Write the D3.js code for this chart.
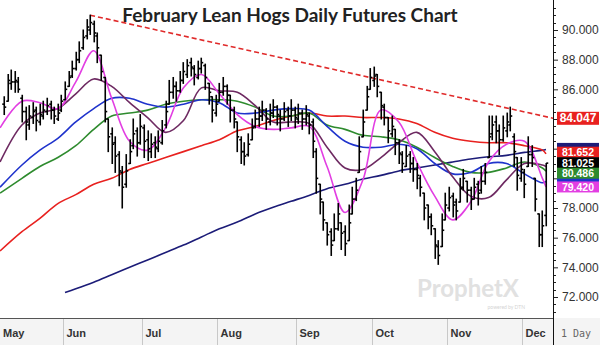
<!DOCTYPE html>
<html>
<head>
<meta charset="utf-8">
<script src="https://d3js.org/d3.v7.min.js"></script>
<style>
  body { margin: 0; background: #fff; }
  svg { display: block; }
</style>
</head>
<body>
<svg id="chart" width="600" height="345"></svg>
<script>

// daily bars, [open, high, low, close], one per trading day from early May
var bars = [
  [85.0,85.5,84.3,84.8],[85.2,87.0,85.2,86.6],[86.4,87.3,86.0,86.5],[86.5,87.2,85.8,86.6],[86.5,86.8,85.8,86.0],
  [85.4,85.6,83.8,84.5],[84.5,84.8,82.6,83.8],[83.6,84.9,83.3,84.2],[84.1,85.1,83.7,84.5],[84.6,84.8,83.2,83.9],
  [83.8,85.0,83.6,84.3],[84.2,85.2,84.0,84.6],[84.5,85.4,84.3,84.9],[85.0,85.2,84.0,84.6],[84.6,84.8,83.7,84.2],
  [84.0,85.0,83.9,84.4],[84.6,85.6,84.5,85.2],[85.3,86.5,85.3,86.0],[86.2,87.2,86.2,86.8],[86.9,87.9,86.8,87.4],
  [87.4,88.5,87.3,88.0],[88.0,89.2,87.8,88.6],[88.8,90.0,88.7,89.5],[89.6,90.7,89.4,90.2],[90.0,91.0,89.7,90.5],
  [90.4,90.6,89.2,89.8],[89.6,89.8,87.8,88.8],[88.3,88.3,86.6,87.2],[86.8,86.8,83.8,84.5],[84.0,84.0,81.8,82.8],
  [83.0,83.4,81.0,82.3],[82.4,82.8,80.4,81.5],[81.6,81.8,79.5,80.5],[80.4,80.8,78.0,79.4],[79.6,81.6,79.4,80.5],
  [81.0,82.6,81.0,81.8],[82.2,84.0,82.0,83.0],[83.2,83.4,81.5,82.4],[82.4,84.3,82.3,83.5],[83.4,83.6,81.4,82.5],
  [82.6,83.2,81.2,82.0],[81.8,83.0,81.4,82.3],[82.4,82.8,81.4,82.1],[82.0,83.2,81.8,82.5],[82.4,83.9,82.3,83.2],
  [83.6,85.2,83.4,84.5],[85.0,86.6,85.0,85.8],[85.8,86.8,85.4,86.2],[86.2,86.5,85.2,85.9],[85.9,87.2,85.8,86.6],
  [86.6,87.8,86.4,87.2],[87.0,88.0,86.8,87.6],[87.8,88.1,86.9,87.5],[87.4,87.6,86.3,87.0],[86.8,87.9,86.7,87.4],
  [87.4,88.1,87.1,87.8],[87.6,87.7,86.0,86.8],[86.4,86.4,85.0,85.8],[85.5,85.5,83.8,84.6],[84.4,85.6,84.2,85.0],
  [85.2,86.4,85.2,85.8],[85.8,86.8,85.6,86.2],[86.2,86.3,85.0,85.6],[85.6,85.6,83.8,84.6],[84.6,84.8,83.4,84.0],
  [83.8,83.8,81.8,82.8],[82.6,82.8,81.0,81.8],[81.8,82.4,80.9,81.5],[81.6,83.0,81.5,82.3],[82.6,84.0,82.6,83.4],
  [83.5,84.6,83.4,84.0],[84.0,84.8,83.5,84.2],[84.2,85.2,83.9,84.6],[84.6,84.7,83.3,84.0],[83.8,85.0,83.6,84.4],
  [84.4,85.3,84.1,84.8],[84.8,84.9,83.6,84.3],[84.2,84.6,83.2,84.0],[84.0,85.1,83.9,84.5],[84.6,84.8,83.5,84.2],
  [84.2,85.3,83.9,84.6],[84.6,84.8,83.4,84.1],[84.0,85.0,83.7,84.4],[84.4,84.6,83.3,84.0],[84.0,84.9,83.6,84.3],
  [84.2,84.4,83.0,83.6],[83.8,84.0,81.4,82.5],[81.8,82.0,79.0,80.0],[79.6,79.6,77.6,78.6],[78.4,78.4,76.5,77.2],
  [77.0,77.0,75.5,76.2],[76.4,76.6,74.8,75.5],[75.8,77.6,75.8,76.6],[76.6,78.3,76.5,77.6],[77.0,77.0,75.2,76.3],
  [76.4,76.8,74.8,75.6],[75.8,78.2,75.8,77.0],[77.6,79.4,77.6,78.6],[78.6,80.0,78.5,79.2],[80.4,82.8,80.4,81.8],
  [82.8,84.6,82.8,83.8],[84.6,86.2,84.6,85.5],[86.0,87.4,86.0,86.8],[86.6,87.5,86.2,86.9],[87.0,87.0,85.5,86.2],
  [85.8,85.8,84.0,84.9],[84.8,85.0,83.6,84.1],[84.1,84.1,82.4,83.2],[83.0,84.2,82.8,83.5],[83.3,83.3,81.6,82.4],
  [82.4,82.6,81.0,81.7],[81.6,81.8,80.4,81.0],[80.8,82.2,80.8,81.5],[81.6,81.8,80.4,81.0],[81.0,81.4,79.8,80.6],
  [80.6,81.0,79.3,80.2],[80.0,80.2,78.8,79.4],[79.0,79.0,77.2,78.0],[78.2,78.2,76.6,77.4],[77.4,77.6,76.2,76.8],
  [76.6,76.6,74.6,75.5],[75.4,75.8,74.2,74.8],[75.4,77.6,75.4,76.5],[77.2,79.0,77.2,78.2],[78.0,79.4,77.8,78.7],
  [78.8,79.0,77.4,78.2],[78.4,78.6,77.2,77.8],[78.4,80.0,78.4,79.3],[79.4,80.6,79.2,80.0],[79.8,79.8,78.4,79.2],
  [79.2,79.4,77.9,78.6],[78.6,80.0,78.6,79.4],[79.6,79.8,78.2,79.0],[79.2,80.8,79.0,79.8],[79.8,81.0,79.6,80.4],
  [81.4,84.2,81.4,82.8],[83.0,84.2,82.6,83.6],[83.8,84.2,82.4,83.2],[83.2,83.6,81.6,82.6],[82.6,84.2,82.5,83.4],
  [83.2,84.4,82.8,83.8],[83.6,84.8,83.2,84.2],[82.8,83.0,80.8,81.8],[81.4,81.4,79.2,80.2],[80.0,81.4,79.8,80.6],
  [80.4,80.6,78.7,79.6],[80.8,82.8,80.8,81.6],[81.6,82.2,80.8,81.4],[80.0,80.0,77.8,78.6],[77.6,77.6,75.4,76.2],
  [76.2,77.8,75.4,76.8],[77.5,81.0,76.8,81.025]
];

// moving averages, read every 5th bar (index -1.1 = left edge)
var maIdx = [-1.1,5,10,15,20,25,30,35,40,45,50,55,60,65,70,75,80,85,90,95,100,105,110,115,120,125,130,135,140,145,150,151];
var ma9   = [83.4,85.2,85.1,84.7,86.5,88.6,85.4,82.5,81.9,83.4,86.1,87.0,85.7,84.3,83.5,83.3,83.4,83.5,80.8,77.7,79.9,84.6,83.8,81.1,78.8,77.2,78.4,81.1,82.3,82.5,80.0,79.42];
var ma18  = [81.1,83.6,84.4,84.7,85.7,86.7,86.2,85.1,84.1,83.1,83.9,86.1,85.9,85.8,84.9,83.8,83.8,83.7,82.1,80.7,80.6,81.4,82.4,83.1,81.8,80.1,78.8,78.7,79.9,81.0,80.9,80.8];
var ma40  = [79.4,80.9,81.9,82.7,83.8,84.7,85.4,85.4,85.0,84.8,85.0,85.3,85.1,84.4,84.4,84.6,84.7,84.6,83.5,82.5,82.1,82.1,82.3,82.0,81.0,80.3,80.4,81.0,81.0,80.3,79.7,79.8];
var ma50  = [79.0,80.0,80.8,81.4,82.2,83.3,84.2,84.4,84.6,85.0,85.2,85.3,85.3,85.2,84.8,84.2,84.2,84.4,83.6,83.3,82.9,82.8,82.6,82.1,81.4,80.8,80.4,80.4,80.7,81.1,80.7,80.486];
var ma100 = [75.1,76.4,77.3,78.3,78.9,79.6,80.0,80.6,81.0,81.4,81.8,82.2,82.6,83.2,83.5,83.9,84.2,84.4,84.2,84.2,84.1,84.1,84.0,83.7,83.1,82.7,82.5,82.4,82.4,82.2,81.9,81.652];
var navyIdx = [17,20,25,30,35,40,45,50,55,60,65,70,75,80,85,90,95,100,105,110,115,120,125,130,135,140,145,150,151];
var ma200 = [72.3,72.55,73.0,73.5,74.0,74.5,75.0,75.5,76.05,76.6,77.05,77.6,78.05,78.45,78.85,79.3,79.6,79.95,80.2,80.5,80.7,80.9,81.1,81.3,81.45,81.55,81.75,81.9,81.95];

// resistance line from the June high
var trendIdx = [24, 153];
var trendVal = [91.0, 84.047];

var months = ["May","Jun","Jul","Aug","Sep","Oct","Nov","Dec"];
var monthStart = [0,17,39,60,82,103,124,145];
var priceTicks = [72,74,76,78,80,82,84,86,88,90];
var priceLabels = [72,74,76,78,86,88,90];   // the others sit under the value tags

// last-value tags; the two without text are hidden behind the others
var hiddenVal = [81.95, 79.85];
var hiddenColor = ["#1c1c78", "#1f33cc"];
var tagVal = [84.047, 81.652, 81.025, 80.486, 79.42];
var tagColor = ["#e8211f", "#e8211f", "#000000", "#2e8b2e", "#e23ee2"];

var svg = d3.select("#chart");
var W = 600, H = 345, axisX = 553, baseY = 318;

var x = d3.scaleLinear().domain([0, bars.length - 1]).range([4, 546]);
var y = d3.scaleLinear().domain([72, 90]).range([297, 30]);

// background
svg.append("rect").attr("width", W).attr("height", H).attr("fill", "#ffffff");
svg.append("rect").attr("x", 0).attr("y", baseY).attr("width", W).attr("height", H - baseY).attr("fill", "#f4f4f4");

// watermark
var wm = svg.append("g").attr("font-family", "Lato, 'Open Sans', sans-serif");
wm.append("text").attr("x", 417).attr("y", 297).attr("font-size", 24).attr("font-weight", 700)
  .attr("fill", "#e1e1e1").text("ProphetX");
wm.append("text").attr("x", 525).attr("y", 309).attr("text-anchor", "end").attr("font-size", 5)
  .attr("fill", "#d4d4d4").text("powered by DTN");

var plot = svg.append("g");
plot.append("clipPath").attr("id", "clip").append("rect")
  .attr("x", 0).attr("y", 0).attr("width", axisX).attr("height", baseY);
var inner = plot.append("g").attr("clip-path", "url(#clip)");

// moving averages
function maLine(idx, vals, color) {
  var pts = vals.map(function(v, k) { return [idx[k], v]; });
  inner.append("path").datum(pts)
    .attr("fill", "none").attr("stroke", color).attr("stroke-width", 1.6)
    .attr("d", d3.line().x(function(d) { return x(d[0]); }).y(function(d) { return y(d[1]); })
      .curve(d3.curveCatmullRom.alpha(0.5)));
}
maLine(navyIdx, ma200, "#1c1c78");
maLine(maIdx, ma100, "#e8211f");
maLine(maIdx, ma50, "#2e8b2e");
maLine(maIdx, ma40, "#1f33cc");
maLine(maIdx, ma18, "#6e2a62");
maLine(maIdx, ma9, "#e23ee2");

// trend line
inner.append("line")
  .attr("x1", x(trendIdx[0])).attr("y1", y(trendVal[0]))
  .attr("x2", x(trendIdx[1])).attr("y2", y(trendVal[1]))
  .attr("stroke", "#e02a2a").attr("stroke-width", 1.6).attr("stroke-dasharray", "5,3");

// OHLC bars
var g = inner.append("g").attr("stroke", "#000").attr("stroke-width", 1.6);
bars.forEach(function(b, i) {
  var cx = Math.round(x(i)) + 0.25;
  g.append("line").attr("x1", cx).attr("x2", cx).attr("y1", y(b[1]) - 0.5).attr("y2", y(b[2]) + 0.5);
  g.append("line").attr("x1", cx - 2).attr("x2", cx).attr("y1", y(b[0])).attr("y2", y(b[0]));
  g.append("line").attr("x1", cx).attr("x2", cx + 2).attr("y1", y(b[3])).attr("y2", y(b[3]));
});

// title
svg.append("text").attr("x", 290).attr("y", 22).attr("text-anchor", "middle")
  .attr("font-family", "Lato, 'Open Sans', sans-serif").attr("font-weight", 700).attr("font-size", 19)
  .attr("fill", "#222").text("February Lean Hogs Daily Futures Chart");

// right axis
var ay = svg.append("g").attr("transform", "translate(" + axisX + ",0)")
  .call(d3.axisRight(y).tickValues(priceTicks).tickSize(5).tickPadding(4)
    .tickFormat(function(d) { return priceLabels.indexOf(d) >= 0 ? d3.format(".3f")(d) : ""; }));
ay.select(".domain").remove();
ay.selectAll("text").attr("font-family", "'Liberation Sans', Arial, sans-serif").attr("font-size", 12).attr("fill", "#333");
ay.selectAll("line").attr("stroke", "#222");
var minor = d3.range(144).map(function(k) { return 71 + k * 0.5; }).filter(function(v) { return v % 2 !== 0; });
svg.append("g").selectAll("line").data(minor).enter().append("line")
  .attr("x1", axisX).attr("x2", axisX + 3)
  .attr("y1", function(d) { return Math.round(y(d)) + 0.5; }).attr("y2", function(d) { return Math.round(y(d)) + 0.5; })
  .attr("stroke", "#222").attr("stroke-width", 1);
svg.append("line").attr("x1", axisX + 0.5).attr("x2", axisX + 0.5).attr("y1", 0).attr("y2", H)
  .attr("stroke", "#111").attr("stroke-width", 1);

// value tags
var tags = svg.append("g");
var tagW = W - axisX - 5;
hiddenVal.forEach(function(v, k) {
  tags.append("rect").attr("x", axisX + 4).attr("y", y(v) - 6.5).attr("width", tagW).attr("height", 13)
    .attr("fill", hiddenColor[k]);
});
// spread the labelled tags so they stack without covering each other's text
var ty = tagVal.map(function(v) { return y(v); });
for (var it = 0; it < 30; it++) {
  for (var k = 1; k < ty.length; k++) {
    var gap = ty[k] - ty[k - 1];
    if (gap < 10.5) { ty[k - 1] -= (10.5 - gap) / 2; ty[k] += (10.5 - gap) / 2; }
  }
}
tagVal.forEach(function(v, k) {
  var cy = ty[k];
  var h = k === 0 ? 13 : 11;
  tags.append("rect").attr("x", axisX + 4).attr("y", cy - h / 2).attr("width", tagW).attr("height", h)
    .attr("fill", tagColor[k]);
  tags.append("text").attr("x", axisX + 4 + tagW / 2).attr("y", cy + 4).attr("text-anchor", "middle")
    .attr("font-family", "'Liberation Sans', Arial, sans-serif").attr("font-size", k === 0 ? 12 : 10.5)
    .attr("font-weight", 700).attr("fill", "#fff").text(d3.format(".3f")(v));
});

// bottom time axis
svg.append("line").attr("x1", 0).attr("x2", axisX).attr("y1", baseY + 0.5).attr("y2", baseY + 0.5)
  .attr("stroke", "#555").attr("stroke-width", 1);
var mx = svg.append("g");
months.forEach(function(m, k) {
  var px = k === 0 ? 0 : Math.round(x(monthStart[k]) - 2) + 0.5;
  if (k > 0) mx.append("line").attr("x1", px).attr("x2", px).attr("y1", baseY + 1).attr("y2", H)
    .attr("stroke", "#c8c8c8");
  mx.append("text").attr("x", px + 3).attr("y", 337)
    .attr("font-family", "'Liberation Sans', Arial, sans-serif").attr("font-size", 11).attr("font-weight", 700)
    .attr("fill", "#333").text(m);
});
svg.append("text").attr("x", 561).attr("y", 337)
  .attr("font-family", "'DejaVu Sans Mono', monospace").attr("font-size", 10).attr("fill", "#666").text("1 Day");

</script>
</body>
</html>
